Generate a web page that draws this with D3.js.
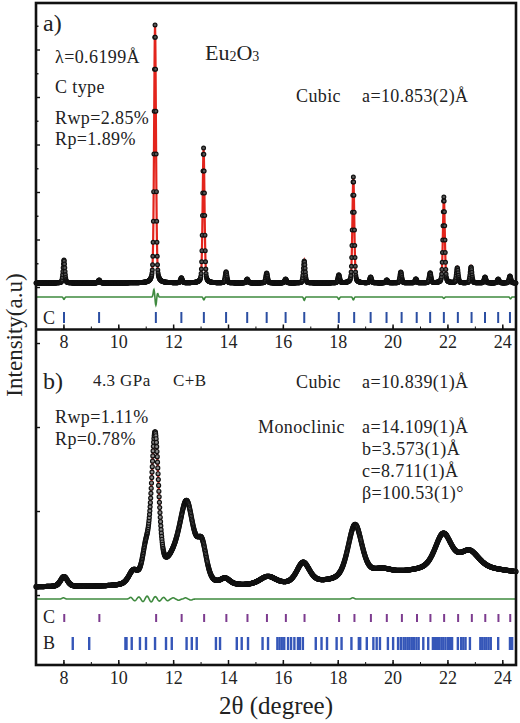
<!DOCTYPE html>
<html>
<head>
<meta charset="utf-8">
<script src="https://cdn.jsdelivr.net/npm/d3@7"></script>
<style>
body { margin: 0; background: #fff; }
svg text { font-family: "Liberation Serif", "Times New Roman", serif; fill: #222; }
</style>
</head>
<body>
<div id="chart"></div>
<script>
// ---- data ----
// panel a) C-type Eu2O3 : [2theta, counts above background, fwhm]
var peaksA = [
  [8.02, 484, 0.08], [9.30, 63, 0.08], [11.34, 5430, 0.08], [12.30, 105, 0.08],
  [13.11, 2842, 0.08], [13.93, 232, 0.08], [14.70, 84, 0.08], [15.41, 210, 0.08],
  [16.10, 84, 0.08], [16.78, 463, 0.08], [18.04, 168, 0.08], [18.57, 2232, 0.08],
  [19.20, 126, 0.08], [19.79, 63, 0.08], [20.30, 232, 0.08], [20.85, 84, 0.08],
  [21.37, 210, 0.08], [21.87, 1810, 0.08], [22.36, 316, 0.08], [22.86, 337, 0.08],
  [23.37, 126, 0.08], [23.85, 84, 0.08], [24.28, 147, 0.08]
];
var bgA = 84;
var diffA = [
  [8.02, -50], [11.30, 160], [11.37, -180], [11.43, 80], [13.12, -60],
  [16.78, -70], [18.04, -50], [18.57, -60], [21.87, -30], [24.30, -40]
];
var reflA = [8.02, 9.30, 11.37, 12.30, 13.12, 13.93, 14.70, 15.41, 16.10, 16.78,
  18.04, 18.60, 19.20, 19.78, 20.33, 20.88, 21.37, 21.87, 22.38, 22.88, 23.37, 23.85, 24.28];

// panel b) 4.3 GPa, C + B : [2theta, counts, fwhm, lorentz fraction]
var peaksB = [
  [8.02, 120, 0.30, 0.4], [10.55, 150, 0.40, 0.4], [11.00, 350, 0.30, 0.4],
  [11.34, 1740, 0.32, 0.4], [12.00, 250, 0.80, 0.4], [12.50, 900, 0.60, 0.4],
  [13.05, 420, 0.40, 0.4], [13.90, 70, 0.40, 0.4], [15.45, 100, 0.70, 0.4],
  [16.74, 248, 0.55, 0.4], [18.63, 640, 0.60, 0.4], [19.60, 60, 0.80, 0.4],
  [21.85, 409, 0.70, 0.4], [22.80, 200, 0.80, 0.4], [22.50, 220, 7.00, 0]
];
var bgB = 95;
var diffB = [
  [8.00, 15], [10.45, 20], [10.60, -20], [10.75, 25], [10.90, -30], [11.05, 35],
  [11.20, -35], [11.35, 30], [11.50, -25], [11.65, 20], [11.80, -20], [12.00, 15],
  [12.20, -15], [12.45, 15], [12.65, -12], [18.55, 15]
];
var reflC = [8.03, 9.31, 11.38, 12.31, 13.13, 13.94, 14.71, 15.42, 16.11, 16.79,
  18.05, 18.61, 19.21, 19.79, 20.34, 20.89, 21.38, 21.88, 22.39, 22.89, 23.38, 23.86, 24.29];
var reflB = [8.34, 8.94, 10.26, 10.30, 10.49, 10.79, 11.01, 11.34, 11.74, 11.95,
  12.49, 12.68, 12.86, 13.56, 13.71, 14.32, 14.50, 14.73, 15.26, 15.46,
  15.80, 15.88, 15.96, 16.05, 16.19, 16.30, 16.42, 16.55, 16.62, 16.73,
  17.20, 17.41, 17.61, 17.96, 18.14, 18.50, 18.77, 18.82, 19.06, 19.30,
  19.42, 19.54, 19.83, 20.02, 20.20, 20.30, 20.40, 20.47, 20.55, 20.62,
  20.70, 20.78, 20.87, 20.95, 21.12, 21.30, 21.47, 21.55, 21.62, 21.70,
  21.78, 21.85, 21.93, 22.02, 22.10, 22.17, 22.38, 22.50, 22.58, 22.66,
  22.82, 23.20, 23.27, 23.35, 23.42, 23.50, 23.58, 23.85, 24.28, 24.36];

var xMajor = [8, 10, 12, 14, 16, 18, 20, 22, 24];
var xMinor = [8, 9, 10, 11, 12, 13, 14, 15, 16, 17, 18, 19, 20, 21, 22, 23, 24];

// ---- layout ----
var W = 520, H = 723;
var L = 36, R = 516, T = 3, MID = 329.5, B = 665;

var svg = d3.select("#chart").append("svg")
  .attr("width", W).attr("height", H);

var x = d3.scaleLinear().domain([7, 24.5]).range([L, R]);

// counts -> pixels for each panel
var yA = d3.scaleLinear().domain([-884, 5979]).range([329, 3]);
var yB = d3.scaleLinear().domain([-833, 3155]).range([665, 330]);

function pv(t, p, eta) {
  if (p.length > 3) eta = p[3];
  var dx = (t - p[0]) / (p[2] / 2);
  var lor = 1 / (1 + dx * dx);
  var gau = Math.exp(-Math.LN2 * dx * dx);
  return p[1] * (eta * lor + (1 - eta) * gau);
}

function profile(peaks, bg, eta) {
  var pts = [];
  for (var i = 0; i <= 1750; i++) {
    var t = 7 + i * 0.01;
    var v = bg;
    peaks.forEach(function(p) { v += pv(t, p, eta); });
    pts.push([t, v]);
  }
  return pts;
}

function diffCurve(feat, level, w) {
  var pts = [];
  for (var i = 0; i <= 1750; i++) {
    var t = 7 + i * 0.01;
    var v = level;
    feat.forEach(function(f) {
      v += f[1] * Math.exp(-(t - f[0]) * (t - f[0]) / (2 * w * w));
    });
    pts.push([t, v]);
  }
  return pts;
}

function drawPanel(y, peaks, bg, eta, diff, diffLevel, diffW, dotFill, r) {
  var data = profile(peaks, bg, eta);
  var line = d3.line()
    .x(function(d) { return x(d[0]); })
    .y(function(d) { return y(d[1]); });

  // calculated
  svg.append("path")
    .datum(data)
    .attr("fill", "none")
    .attr("stroke", "#e3241c")
    .attr("stroke-width", 2.2)
    .attr("d", line);

  // observed
  svg.append("g").selectAll("circle")
    .data(data)
    .enter().append("circle")
    .attr("cx", function(d) { return x(d[0]); })
    .attr("cy", function(d) { return y(d[1]); })
    .attr("r", r)
    .attr("fill", dotFill)
    .attr("stroke", "#111")
    .attr("stroke-width", 1.2);

  // difference
  svg.append("path")
    .datum(diffCurve(diff, diffLevel, diffW))
    .attr("fill", "none")
    .attr("stroke", "#3f8a3f")
    .attr("stroke-width", 1.6)
    .attr("d", line);
}

drawPanel(yA, peaksA, bgA, 0.3, diffA, -210, 0.025, "#555", 1.9);
drawPanel(yB, peaksB, bgB, 0.4, diffB, -48, 0.05, "#8a8a8a", 2.0);

// reflection markers
function markers(list, y0, y1, color, w) {
  svg.append("g").selectAll("line")
    .data(list)
    .enter().append("line")
    .attr("x1", function(d) { return x(d); })
    .attr("x2", function(d) { return x(d); })
    .attr("y1", y0).attr("y2", y1)
    .attr("stroke", color)
    .attr("stroke-width", w);
}
markers(reflA, 312, 323, "#2b4ea2", 2);
markers(reflC, 614, 622, "#7d3c8f", 2);
markers(reflB, 637, 650, "#3556b8", 2.4);

svg.append("text").attr("x", 43).attr("y", 324).attr("font-size", 18).text("C");
svg.append("text").attr("x", 43).attr("y", 623).attr("font-size", 18).text("C");
svg.append("text").attr("x", 43).attr("y", 649).attr("font-size", 18).text("B");

// x axes (ticks inward)
function xAxis(yPos) {
  var gMinor = svg.append("g")
    .attr("transform", "translate(0," + yPos + ")")
    .call(d3.axisBottom(x).tickValues(xMinor).tickSize(-3).tickFormat(""));
  gMinor.select(".domain").remove();
  var gMajor = svg.append("g")
    .attr("transform", "translate(0," + yPos + ")")
    .call(d3.axisBottom(x).tickValues(xMajor).tickSizeInner(-5).tickSizeOuter(0).tickPadding(6));
  gMajor.select(".domain").remove();
  gMajor.selectAll(".tick line").attr("stroke-width", 1.5);
  gMajor.selectAll("text")
    .attr("font-size", 18)
    .attr("font-family", "Liberation Serif, serif")
    .attr("fill", "#222");
  svg.selectAll(".tick line").attr("stroke", "#111");
}
xAxis(MID);
xAxis(B);

// y axes (no labels, ticks inward)
function yAxis(y, vals, size) {
  var g = svg.append("g")
    .attr("transform", "translate(" + L + ",0)")
    .call(d3.axisRight(y).tickValues(vals).tickSize(size).tickFormat(""));
  g.select(".domain").remove();
  g.selectAll(".tick line").attr("stroke", "#111").attr("stroke-width", 1.4);
}
yAxis(yA, [0, 1000, 2000, 3000, 4000, 5000], 4);
yAxis(yA, [500, 1500, 2500, 3500, 4500, 5500], 2.5);
yAxis(yB, [0, 1000, 2000, 3000], 4);

// frame
svg.append("rect")
  .attr("x", L).attr("y", T)
  .attr("width", R - L).attr("height", B - T)
  .attr("fill", "none")
  .attr("stroke", "#111")
  .attr("stroke-width", 2.6);
svg.append("line")
  .attr("x1", L).attr("x2", R)
  .attr("y1", MID).attr("y2", MID)
  .attr("stroke", "#111")
  .attr("stroke-width", 2.6);

// axis titles
svg.append("text")
  .attr("x", 276).attr("y", 714)
  .attr("text-anchor", "middle")
  .attr("font-size", 25)
  .text("2θ (degree)");
svg.append("text")
  .attr("transform", "translate(22,335) rotate(-90)")
  .attr("text-anchor", "middle")
  .attr("font-size", 23)
  .text("Intensity(a.u)");

// annotations
function label(tx, ty, s, size) {
  return svg.append("text")
    .attr("x", tx).attr("y", ty)
    .attr("font-size", size || 18)
    .attr("letter-spacing", 0.4)
    .text(s);
}
label(43, 31, "a)", 24).attr("letter-spacing", 0);
label(55, 63, "λ=0.6199Å");
label(55, 93, "C type");
label(55, 124, "Rwp=2.85%");
label(55, 145, "Rp=1.89%");
label(296, 102, "Cubic");
label(362, 102, "a=10.853(2)Å");

var eu = svg.append("text").attr("x", 205).attr("y", 60).attr("font-size", 22);
eu.append("tspan").text("Eu");
eu.append("tspan").attr("font-size", 14).attr("dy", 1).text("2");
eu.append("tspan").attr("dy", -1).text("O");
eu.append("tspan").attr("font-size", 14).attr("dy", 1).text("3");

label(43, 389, "b)", 24).attr("letter-spacing", 0);
label(93, 386, "4.3 GPa", 17);
label(173, 386, "C+B", 17);
label(296, 388, "Cubic");
label(362, 388, "a=10.839(1)Å");
label(55, 423, "Rwp=1.11%");
label(55, 445, "Rp=0.78%");
label(258, 433, "Monoclinic");
label(362, 433, "a=14.109(1)Å");
label(362, 455, "b=3.573(1)Å");
label(362, 477, "c=8.711(1)Å");
label(362, 499, "β=100.53(1)°");
</script>
</body>
</html>
